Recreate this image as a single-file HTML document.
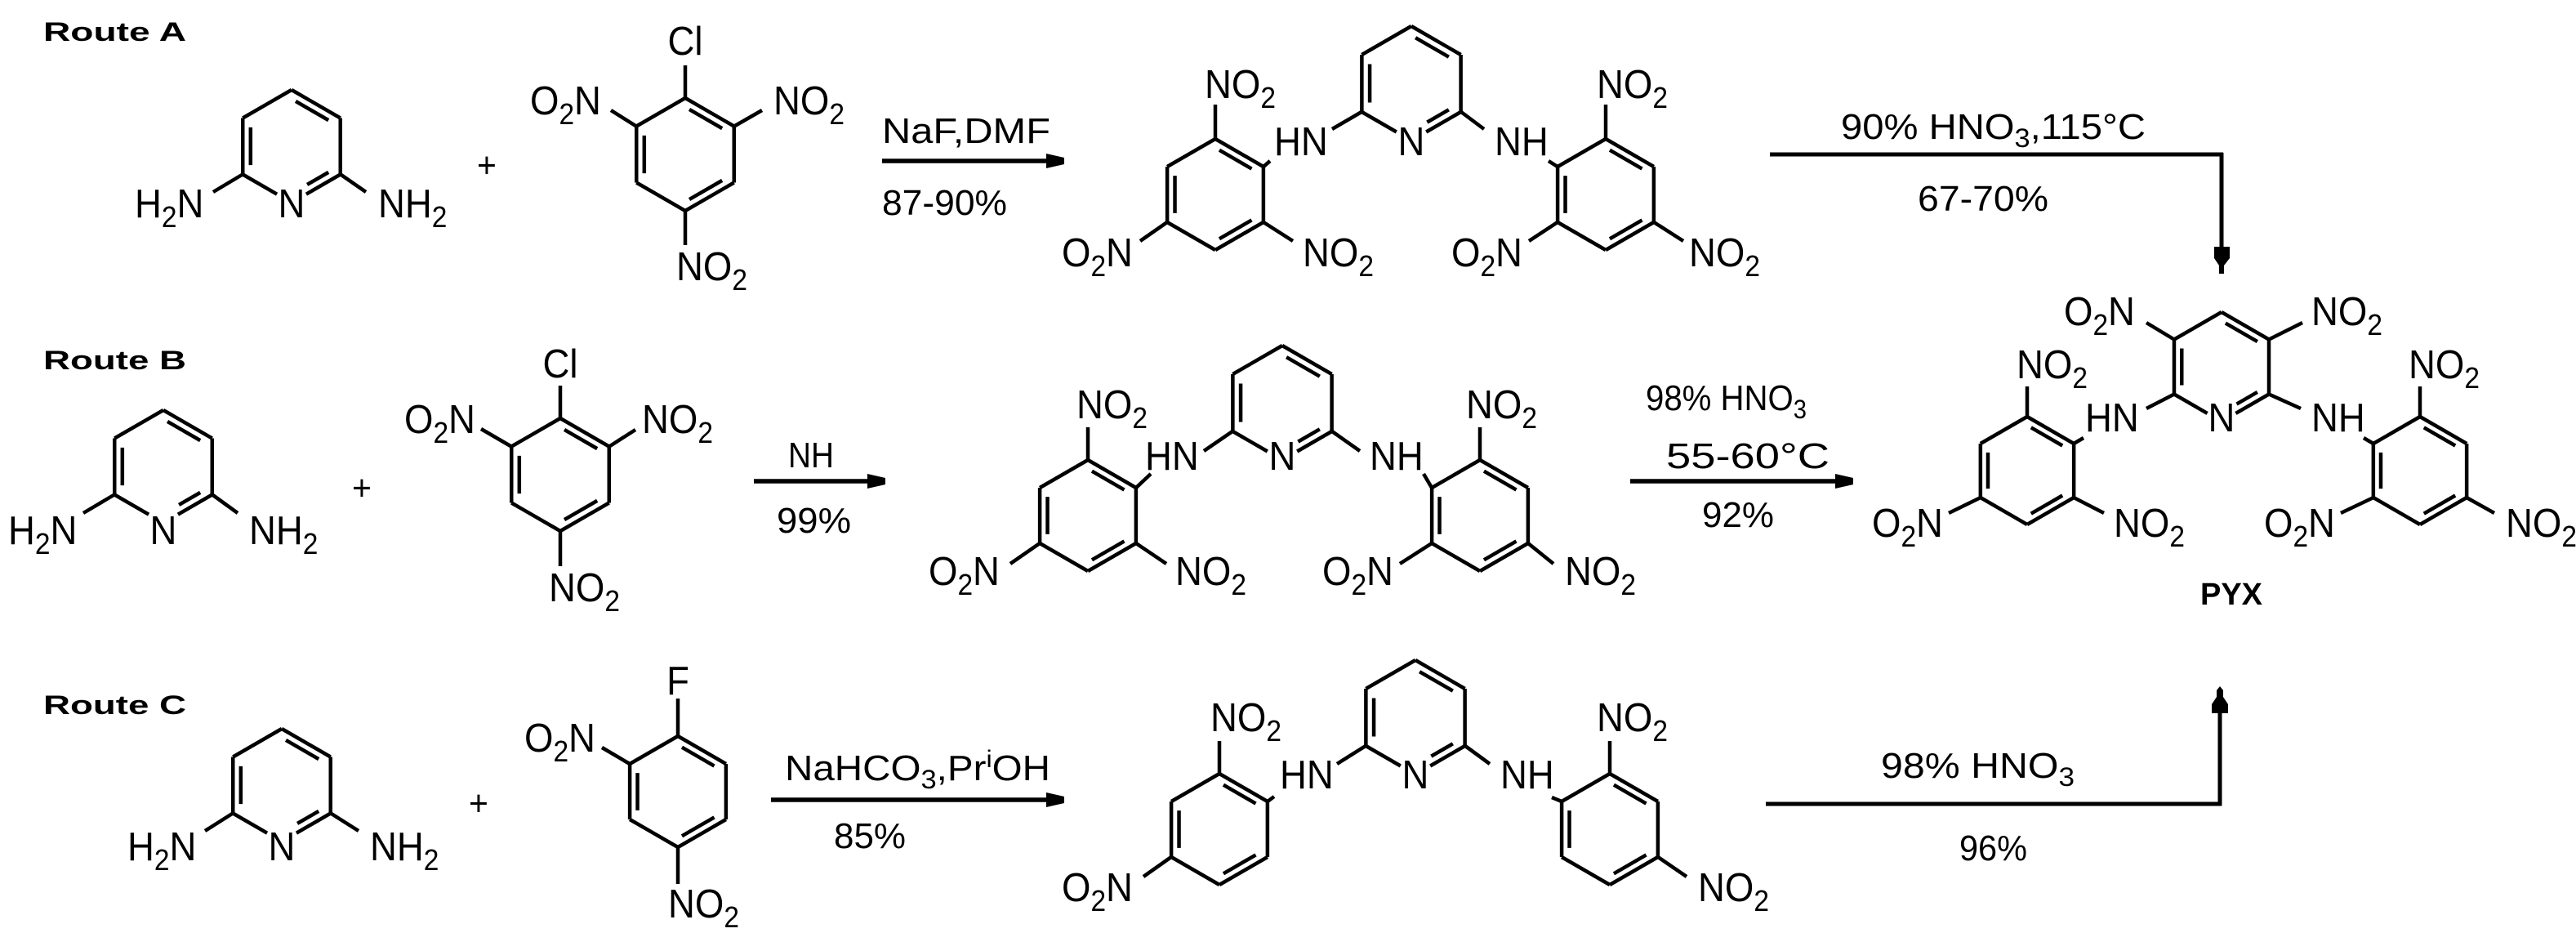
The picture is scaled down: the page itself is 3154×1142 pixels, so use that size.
<!DOCTYPE html>
<html><head><meta charset="utf-8">
<style>
html,body{margin:0;padding:0;background:#fff;}
svg{display:block;}
text{font-family:"Liberation Sans",Arial,sans-serif;fill:#000;}
</style></head>
<body>
<svg id="s" xmlns="http://www.w3.org/2000/svg" width="3154" height="1142" viewBox="0 0 3154 1142"></svg>
<script>
const S=[];
function L(a,b,c,d,w){S.push(`<line x1="${a}" y1="${b}" x2="${c}" y2="${d}" stroke="#000" stroke-width="${w||4.5}" stroke-linecap="butt"/>`);}
function lerp(P,Q,t){return [P[0]+(Q[0]-P[0])*t,P[1]+(Q[1]-P[1])*t];}
function ring(x,yt,r,pyr){
  const h=r*0.866;
  const V=[[x,yt],[x+h,yt+r/2],[x+h,yt+1.5*r],[x,yt+2*r],[x-h,yt+1.5*r],[x-h,yt+r/2]];
  const C=[x,yt+r];
  const sh=P=>[C[0]+(P[0]-C[0])*0.84,C[1]+(P[1]-C[1])*0.84];
  for(let i=0;i<6;i++){
    let P=V[i],Q=V[(i+1)%6];
    if(pyr&&i==2){Q=lerp(P,Q,0.7);}
    if(pyr&&i==3){P=lerp(Q,P,0.7);}
    L(P[0],P[1],Q[0],Q[1]);
  }
  [[0,1],[2,3],[4,5]].forEach(([i,j])=>{
    let P=sh(V[i]),Q=sh(V[j]);
    let P2=lerp(P,Q,0.1),Q2=lerp(P,Q,0.9);
    if(pyr&&i==2){Q2=lerp(P,Q,0.62);}
    L(P2[0],P2[1],Q2[0],Q2[1]);
  });
  return V;
}
function T(x,y,s,anchor,size){
  size=size||49;const sub=Math.round(size*0.74);const dy=Math.round(size*0.24);
  let out='';let inSub=false;
  for(const ch of s){
    if(/[0-9]/.test(ch)){
      if(!inSub){out+=`<tspan dy="${dy}" font-size="${sub}">`;inSub=true;}
      out+=ch;
    } else {
      if(inSub){out+=`</tspan><tspan dy="${-dy}">`;inSub=false;out+=ch+'</tspan>';}
      else out+=ch;
    }
  }
  if(inSub)out+='</tspan>';
  S.push(`<text transform="translate(${x},${y}) scale(0.93,1.0)" x="0" y="0" font-size="${size}" text-anchor="${anchor||'start'}">${out}</text>`);
}
function rawT(x,y,html,size,attr){S.push(`<text x="${x}" y="${y}" font-size="${size}" ${attr||''}>${html}</text>`);}
function arrowR(x1,x2,y){L(x1,y,x2-4,y,5.5);S.push(`<polygon points="${x2-22},${y-9} ${x2},${y-4} ${x2},${y+4} ${x2-22},${y+9}" fill="#000"/>`);}
const F=44;
const TL=n=>`textLength="${n}" lengthAdjust="spacingAndGlyphs"`;

rawT(53,50,'Route A',32,'font-weight="bold" '+TL(175));
rawT(53,452,'Route B',32,'font-weight="bold" '+TL(175));
rawT(53,874,'Route C',32,'font-weight="bold" '+TL(175));

// ===== Route A =====
ring(357,110,69,true);
L(297,213.5,261,235);L(417,213.5,448,235);
T(165,266,'H2N');T(357,266,'N','middle');T(463,266,'NH2');
T(596,217,'+','middle',44);
ring(839,120,69,false);
L(839,120,839,80);L(779,154.5,748,135);L(899,154.5,933,135);L(839,258,839,300);
T(839,67,'Cl','middle');T(649,140,'O2N');T(947,140,'NO2');T(828,343,'NO2');
arrowR(1080,1303,197);
rawT(1080,175,'NaF,DMF',F,TL(206));
rawT(1080,263,'87-90%',F,TL(153));
ring(1728,32,70,true);
L(1667,137,1631,158);L(1789,137,1817,158);
T(1560,190,'HN');T(1728,190,'N','middle');T(1830,190,'NH');
ring(1488,170,68,false);
L(1488,170,1488,128);L(1547,204,1555,197);L(1429,272,1396,295);L(1547,272,1583,295);
T(1475,120,'NO2');T(1300,326,'O2N');T(1595,326,'NO2');
ring(1966,170,68,false);
L(1966,170,1966,128);L(1907,204,1896,197);L(1907,272,1872,295);L(2025,272,2061,295);
T(1955,120,'NO2');T(1777,326,'O2N');T(2068,326,'NO2');
L(2167,189,2722,189,5);L(2720,187,2720,310,5);
S.push(`<polygon points="2711,302 2730,302 2730,316 2723,325 2723,335 2717,335 2717,325 2711,316" fill="#000"/>`);
rawT(2254,170,'90% HNO<tspan dy="10" font-size="32">3</tspan><tspan dy="-10">,115°C</tspan>',F,TL(373));
rawT(2348,258,'67-70%',F,TL(160));

// ===== Route B =====
ring(200,502,69,true);
L(140,605.5,102,628);L(260,605.5,291,628);
T(10,666,'H2N');T(200,666,'N','middle');T(305,666,'NH2');
T(443,612,'+','middle',44);
ring(686,512,69,false);
L(686,512,686,472);L(626,546.5,589,525);L(746,546.5,778,526);L(686,650,686,693);
T(686,462,'Cl','middle');T(495,530,'O2N');T(786,530,'NO2');T(672,736,'NO2');
arrowR(923,1084,589);
rawT(965,572,'NH',F,TL(56));
rawT(951,652,'99%',F,TL(91));
ring(1570,423,70,true);
L(1509,528,1474,552);L(1631,528,1665,552);
T(1402,575,'HN');T(1570,575,'N','middle');T(1677,575,'NH');
ring(1332,563,68,false);
L(1332,563,1332,523);L(1391,597,1409,580);L(1273,665,1237,690);L(1391,665,1428,690);
T(1318,512,'NO2');T(1137,716,'O2N');T(1439,716,'NO2');
ring(1812,563,68,false);
L(1812,563,1812,523);L(1753,597,1743,580);L(1753,665,1714,690);L(1871,665,1902,690);
T(1795,512,'NO2');T(1619,716,'O2N');T(1916,716,'NO2');
arrowR(1996,2269,589);
rawT(2015,502,'98% HNO<tspan dy="10" font-size="32">3</tspan>',F,TL(197));
rawT(2040,573,'55-60°C',F,TL(200));
rawT(2084,645,'92%',F,TL(88));

// ===== PYX =====
ring(2720,382,67,true);
L(2662,415.5,2628,395);L(2778,415.5,2819,395);L(2662,482.5,2628,500);L(2778,482.5,2817,500);
T(2527,398,'O2N');T(2830,398,'NO2');T(2553,528,'HN');T(2720,528,'N','middle');T(2830,528,'NH');
ring(2482,510,66,false);
L(2482,510,2482,473);L(2539,543,2551,536);L(2425,609,2386,628);L(2539,609,2576,628);
T(2469,463,'NO2');T(2292,657,'O2N');T(2588,657,'NO2');
ring(2963,510,66,false);
L(2963,510,2963,473);L(2906,543,2894,536);L(2906,609,2866,628);L(3020,609,3054,628);
T(2949,463,'NO2');T(2772,657,'O2N');T(3068,657,'NO2');
rawT(2732,740,'PYX',38,'font-weight="bold" text-anchor="middle"');

// ===== Route C =====
ring(345,892,69,true);
L(285,995.5,251,1017);L(405,995.5,439,1017);
T(156,1053,'H2N');T(345,1053,'N','middle');T(453,1053,'NH2');
T(586,998,'+','middle',44);
ring(830,901,68,false);
L(830,901,830,855);L(771,935,737,915);L(830,1037,830,1082);
T(830,850,'F','middle');T(642,920,'O2N');T(818,1123,'NO2');
arrowR(944,1303,979);
rawT(961,955,'NaHCO<tspan dy="10" font-size="32">3</tspan><tspan dy="-10">,Pr</tspan><tspan dy="-16" font-size="30">i</tspan><tspan dy="16">OH</tspan>',F,TL(325));
rawT(1021,1038,'85%',F,TL(88));
ring(1733,808,70,true);
L(1672,913,1637,935);L(1794,913,1824,935);
T(1567,965,'HN');T(1733,965,'N','middle');T(1837,965,'NH');
ring(1493,947,68,false);
L(1493,947,1493,907);L(1552,981,1560,975);L(1434,1049,1400,1073);
T(1482,895,'NO2');T(1300,1103,'O2N');
ring(1971,947,68,false);
L(1971,947,1971,907);L(1912,981,1900,976);L(2030,1049,2065,1073);
T(1955,895,'NO2');T(2079,1103,'NO2');
L(2162,984,2720,984,5);L(2718,986,2718,860,5);
S.push(`<polygon points="2718,840 2722,845 2722,853 2728,862 2728,873 2708,873 2708,862 2714,853 2714,845" fill="#000"/>`);
rawT(2303,952,'98% HNO<tspan dy="10" font-size="32">3</tspan>',F,TL(237));
rawT(2399,1053,'96%',F,TL(83));

document.getElementById('s').innerHTML=S.join('');
</script>
</body></html>
